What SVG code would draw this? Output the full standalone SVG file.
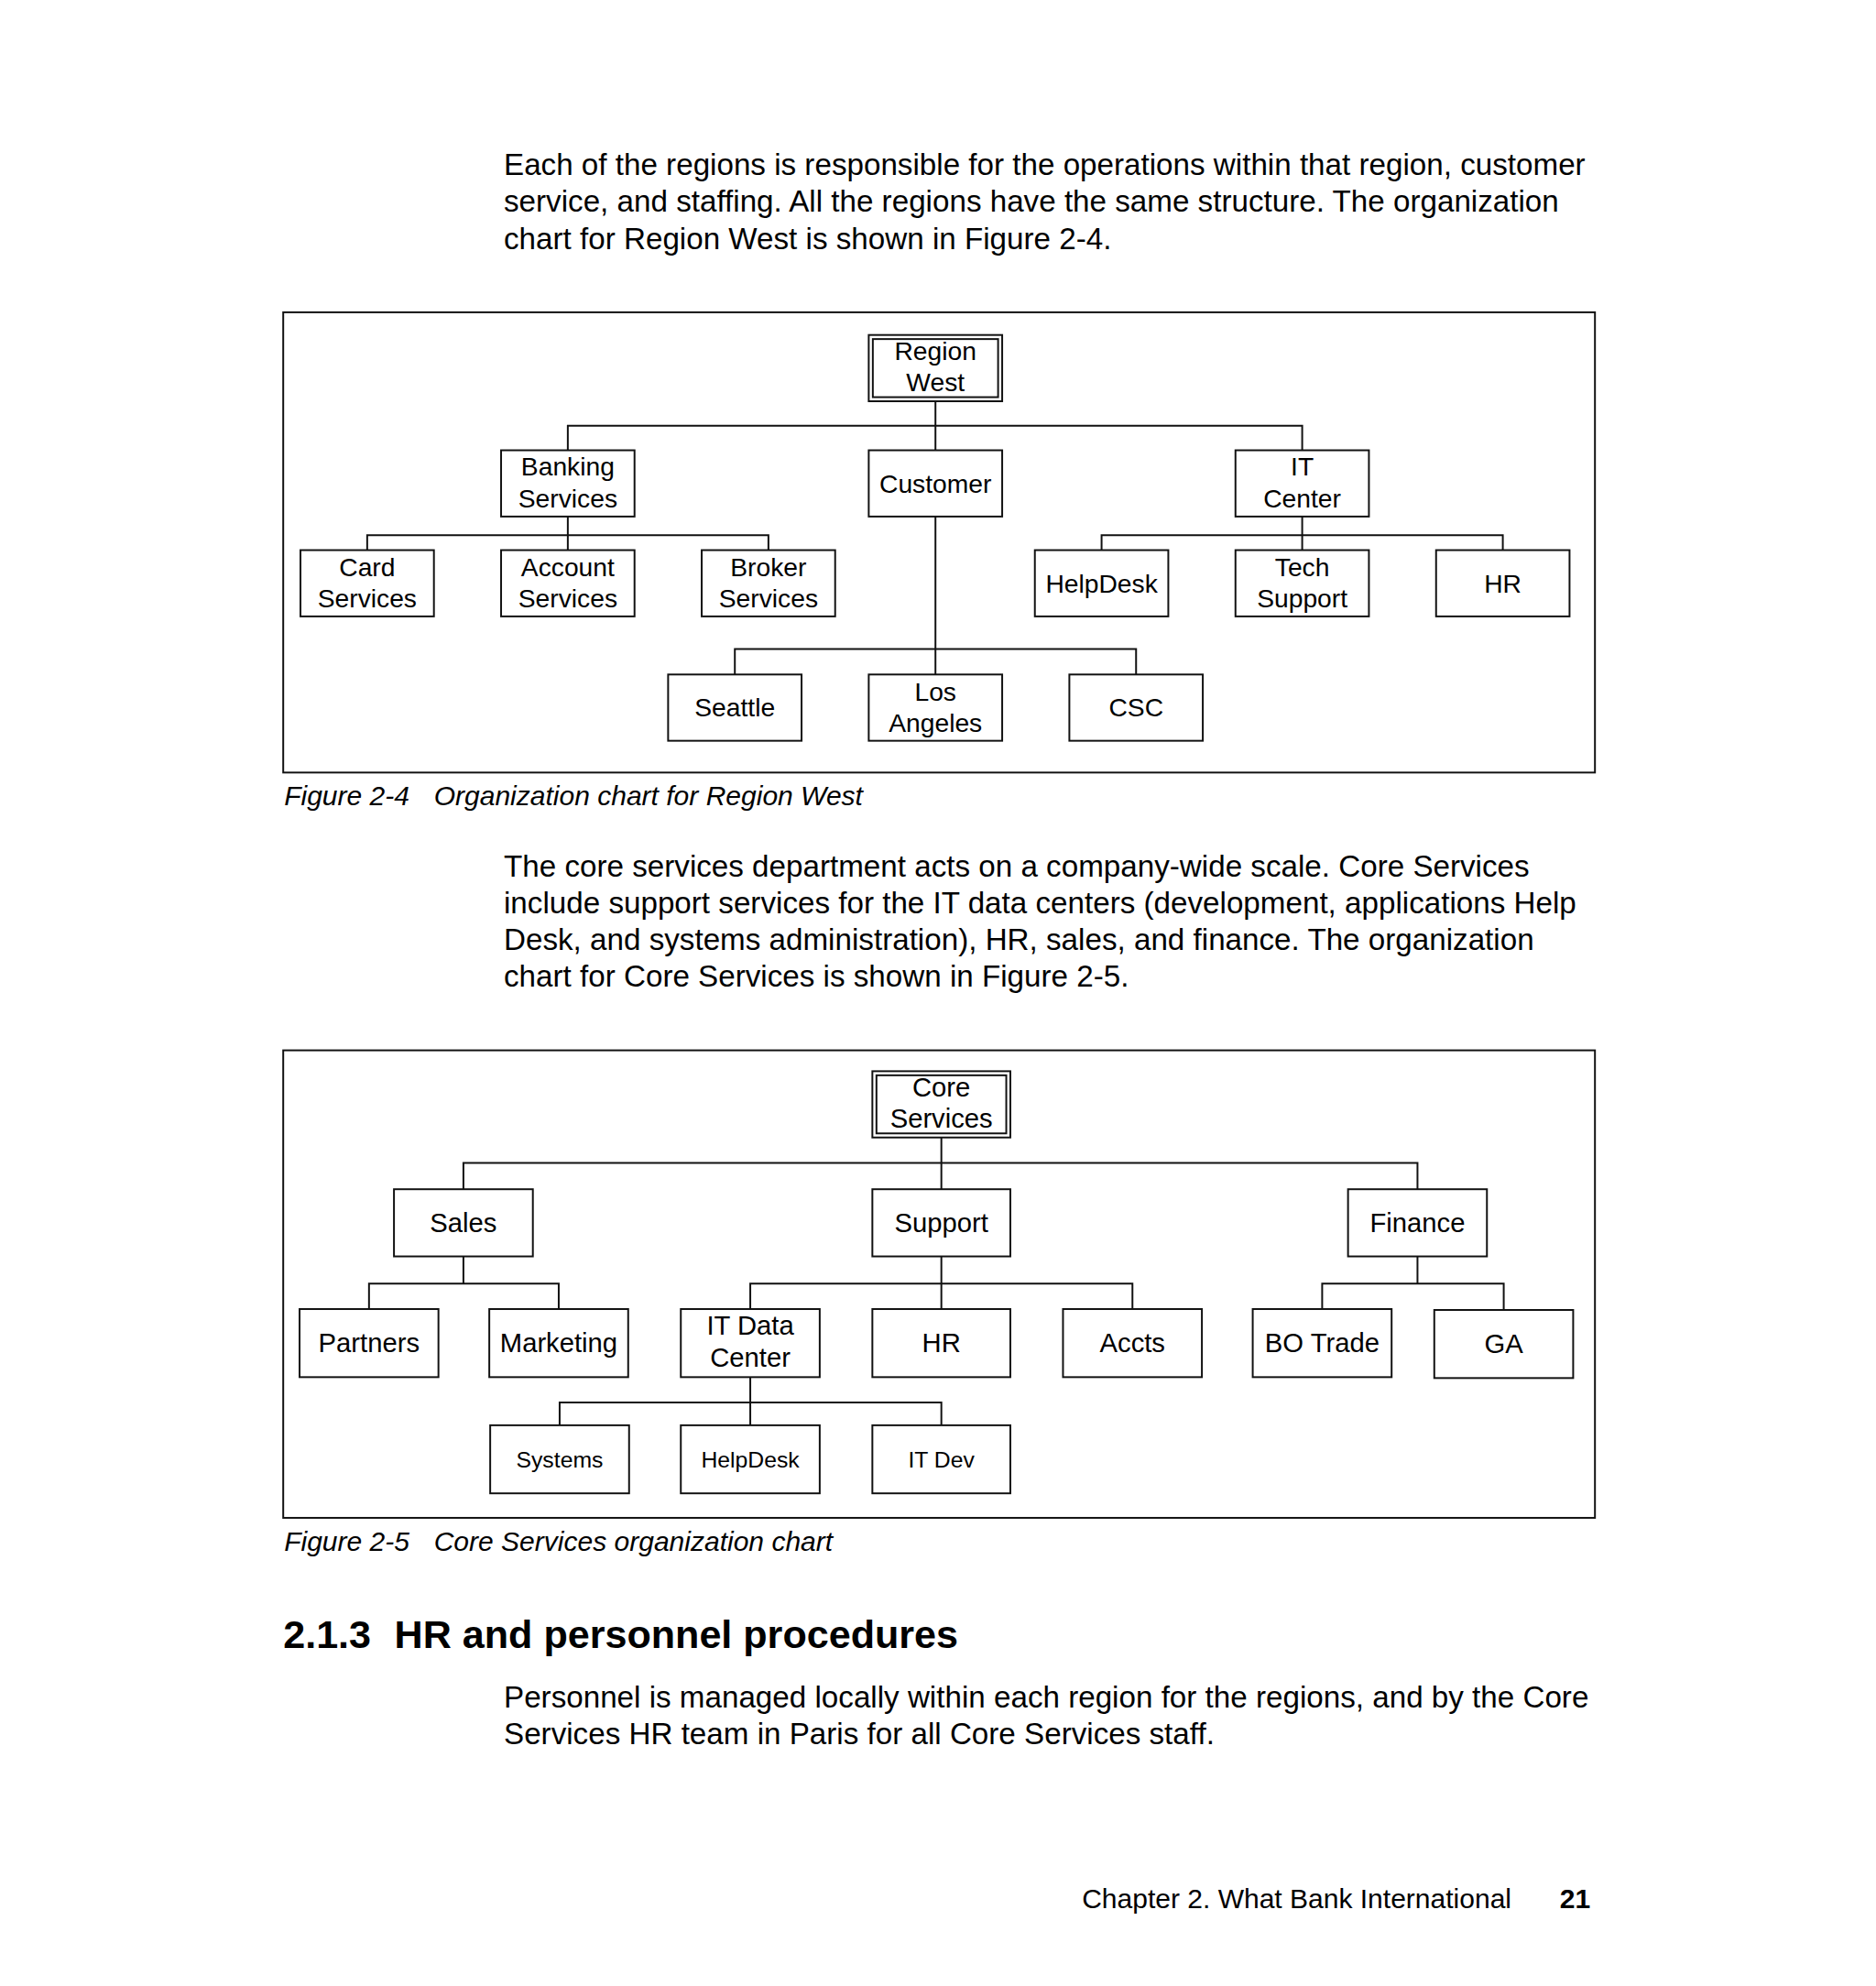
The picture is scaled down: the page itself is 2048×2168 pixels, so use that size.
<svg xmlns="http://www.w3.org/2000/svg" width="2048" height="2168" viewBox="0 0 2048 2168">
<style>
.bg{fill:#fff}
.frame{fill:none;stroke:#111;stroke-width:2}
.box{fill:#fff;stroke:#111;stroke-width:2}
.conn{fill:none;stroke:#111;stroke-width:2}
.body{font-family:"Liberation Sans",Arial,sans-serif;font-size:33.5px;fill:#000}
.cap{font-family:"Liberation Sans",Arial,sans-serif;font-size:30.3px;font-style:italic;fill:#000}
.n1{font-family:"Liberation Sans",Arial,sans-serif;font-size:28.5px;fill:#000;text-anchor:middle}
.n2{font-family:"Liberation Sans",Arial,sans-serif;font-size:29.5px;fill:#000;text-anchor:middle}
.n3{font-family:"Liberation Sans",Arial,sans-serif;font-size:25px;fill:#000;text-anchor:middle}
.head{font-family:"Liberation Sans",Arial,sans-serif;font-size:43.5px;font-weight:bold;fill:#000}
.foot{font-family:"Liberation Sans",Arial,sans-serif;font-size:30.3px;fill:#000}
</style>
<rect class="bg" x="0" y="0" width="2048" height="2168"/>
<g id="page" transform="scale(0.991)">

<g id="para1" class="body">
<text x="555" y="193">Each of the regions is responsible for the operations within that region, customer</text>
<text x="555" y="233.5">service, and staffing. All the regions have the same structure. The organization</text>
<text x="555" y="274">chart for Region West is shown in Figure 2-4.</text>
</g>

<!-- Figure 2-4 -->
<rect id="frame1" class="frame" x="312" y="344" width="1445" height="507"/>
<g id="connectors1">
<path class="conn" d="M1030.5 442V496 M625.5 496V469H1434.5V496"/>
<path class="conn" d="M625.5 569V606 M404.5 606V589.5H846.5V606"/>
<path class="conn" d="M1434.5 569V606 M1213.5 606V589.5H1655.5V606"/>
<path class="conn" d="M1030.5 569V743 M809.5 743V715H1251.5V743"/>
</g>
<g id="region-west">
<rect class="box" x="957" y="369" width="147" height="73"/>
<rect class="box" x="961.5" y="373.5" width="138" height="64"/>
<text class="n1" x="1030.5" y="397">Region</text>
<text class="n1" x="1030.5" y="431">West</text>
</g>
<g id="banking-services">
<rect class="box" x="552" y="496" width="147" height="73"/>
<text class="n1" x="625.5" y="524">Banking</text>
<text class="n1" x="625.5" y="559">Services</text>
</g>
<g id="customer">
<rect class="box" x="957" y="496" width="147" height="73"/>
<text class="n1" x="1030.5" y="542.5">Customer</text>
</g>
<g id="it-center">
<rect class="box" x="1361" y="496" width="147" height="73"/>
<text class="n1" x="1434.5" y="524">IT</text>
<text class="n1" x="1434.5" y="559">Center</text>
</g>
<g id="card-services">
<rect class="box" x="331" y="606" width="147" height="73"/>
<text class="n1" x="404.5" y="634.5">Card</text>
<text class="n1" x="404.5" y="669.5">Services</text>
</g>
<g id="account-services">
<rect class="box" x="552" y="606" width="147" height="73"/>
<text class="n1" x="625.5" y="634.5">Account</text>
<text class="n1" x="625.5" y="669.5">Services</text>
</g>
<g id="broker-services">
<rect class="box" x="773" y="606" width="147" height="73"/>
<text class="n1" x="846.5" y="634.5">Broker</text>
<text class="n1" x="846.5" y="669.5">Services</text>
</g>
<g id="helpdesk1">
<rect class="box" x="1140" y="606" width="147" height="73"/>
<text class="n1" x="1213.5" y="652.5">HelpDesk</text>
</g>
<g id="tech-support">
<rect class="box" x="1361" y="606" width="147" height="73"/>
<text class="n1" x="1434.5" y="634.5">Tech</text>
<text class="n1" x="1434.5" y="669.5">Support</text>
</g>
<g id="hr1">
<rect class="box" x="1582" y="606" width="147" height="73"/>
<text class="n1" x="1655.5" y="652.5">HR</text>
</g>
<g id="seattle">
<rect class="box" x="736" y="743" width="147" height="73"/>
<text class="n1" x="809.5" y="789.5">Seattle</text>
</g>
<g id="los-angeles">
<rect class="box" x="957" y="743" width="147" height="73"/>
<text class="n1" x="1030.5" y="771.5">Los</text>
<text class="n1" x="1030.5" y="806.5">Angeles</text>
</g>
<g id="csc">
<rect class="box" x="1178" y="743" width="147" height="73"/>
<text class="n1" x="1251.5" y="789.5">CSC</text>
</g>
<g id="caption1" class="cap">
<text x="313" y="887">Figure 2-4</text>
<text x="478" y="887">Organization chart for Region West</text>
</g>

<g id="para2" class="body">
<text x="555" y="965.5">The core services department acts on a company-wide scale. Core Services</text>
<text x="555" y="1006">include support services for the IT data centers (development, applications Help</text>
<text x="555" y="1046.5">Desk, and systems administration), HR, sales, and finance. The organization</text>
<text x="555" y="1087">chart for Core Services is shown in Figure 2-5.</text>
</g>

<!-- Figure 2-5 -->
<rect id="frame2" class="frame" x="312" y="1157" width="1445" height="515"/>
<g id="connectors2">
<path class="conn" d="M1037 1253V1310 M510.5 1310V1281H1561.5V1310"/>
<path class="conn" d="M510.5 1384V1414 M406.5 1442V1414H615.5V1442"/>
<path class="conn" d="M1037 1384V1442 M826.5 1442V1414H1247.5V1442"/>
<path class="conn" d="M1561.5 1384V1414 M1456.5 1442V1414H1656.5V1443"/>
<path class="conn" d="M826.5 1517V1570 M616.5 1570V1545H1037V1570"/>
</g>
<g id="core-services">
<rect class="box" x="961" y="1180" width="152" height="73"/>
<rect class="box" x="965.5" y="1184.5" width="143" height="64"/>
<text class="n2" x="1037" y="1207.5">Core</text>
<text class="n2" x="1037" y="1242.5">Services</text>
</g>
<g id="sales">
<rect class="box" x="434" y="1310" width="153" height="74"/>
<text class="n2" x="510.5" y="1357.5">Sales</text>
</g>
<g id="support">
<rect class="box" x="961" y="1310" width="152" height="74"/>
<text class="n2" x="1037" y="1357.5">Support</text>
</g>
<g id="finance">
<rect class="box" x="1485" y="1310" width="153" height="74"/>
<text class="n2" x="1561.5" y="1357.5">Finance</text>
</g>
<g id="partners">
<rect class="box" x="330" y="1442" width="153" height="75"/>
<text class="n2" x="406.5" y="1489.5">Partners</text>
</g>
<g id="marketing">
<rect class="box" x="539" y="1442" width="153" height="75"/>
<text class="n2" x="615.5" y="1489.5">Marketing</text>
</g>
<g id="it-data-center">
<rect class="box" x="750" y="1442" width="153" height="75"/>
<text class="n2" x="826.5" y="1470.5">IT Data</text>
<text class="n2" x="826.5" y="1505.5">Center</text>
</g>
<g id="hr2">
<rect class="box" x="961" y="1442" width="152" height="75"/>
<text class="n2" x="1037" y="1489.5">HR</text>
</g>
<g id="accts">
<rect class="box" x="1171" y="1442" width="153" height="75"/>
<text class="n2" x="1247.5" y="1489.5">Accts</text>
</g>
<g id="bo-trade">
<rect class="box" x="1380" y="1442" width="153" height="75"/>
<text class="n2" x="1456.5" y="1489.5">BO Trade</text>
</g>
<g id="ga">
<rect class="box" x="1580" y="1443" width="153" height="75"/>
<text class="n2" x="1656.5" y="1490.5">GA</text>
</g>
<g id="systems">
<rect class="box" x="540" y="1570" width="153" height="75"/>
<text class="n3" x="616.5" y="1616.5">Systems</text>
</g>
<g id="helpdesk2">
<rect class="box" x="750" y="1570" width="153" height="75"/>
<text class="n3" x="826.5" y="1616.5">HelpDesk</text>
</g>
<g id="it-dev">
<rect class="box" x="961" y="1570" width="152" height="75"/>
<text class="n3" x="1037" y="1616.5">IT Dev</text>
</g>
<g id="caption2" class="cap">
<text x="313" y="1708">Figure 2-5</text>
<text x="478" y="1708">Core Services organization chart</text>
</g>

<g id="heading" class="head">
<text x="312" y="1815">2.1.3</text>
<text x="434.5" y="1815">HR and personnel procedures</text>
</g>

<g id="para3" class="body">
<text x="555" y="1880.5">Personnel is managed locally within each region for the regions, and by the Core</text>
<text x="555" y="1921">Services HR team in Paris for all Core Services staff.</text>
</g>

<g id="footer">
<text class="foot" x="1665" y="2102" text-anchor="end">Chapter 2. What Bank International</text>
<text class="foot" x="1752" y="2102" text-anchor="end" font-weight="bold">21</text>
</g>
</g>
</svg>
